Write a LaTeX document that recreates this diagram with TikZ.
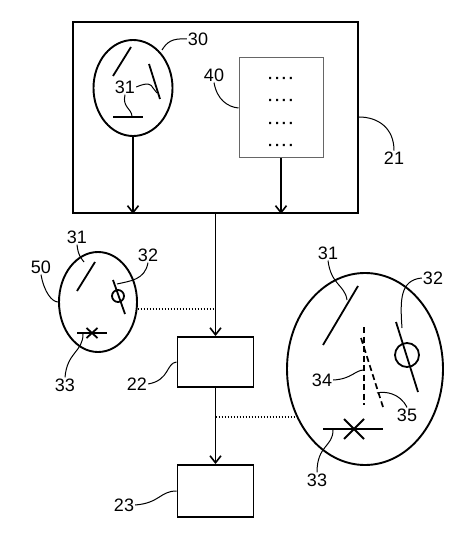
\documentclass[tikz,border=0pt]{standalone}
\usepackage{fontspec}
\setmainfont{Liberation Sans}
\usetikzlibrary{shapes.geometric,arrows.meta}
\begin{document}
\begin{tikzpicture}[x=1pt,y=-1pt,
  every node/.style={font=\fontsize{18}{20}\selectfont},
  main/.style={draw,line width=1.9pt,inner sep=0pt},
  box/.style={main,rectangle},
  oval/.style={main,ellipse},
  stroke/.style={line width=1.8pt},
  leader/.style={line width=1pt},
  lbl/.style={inner sep=1pt},
  arr/.style={line width=1.9pt,-{Straight Barb[length=7pt,width=11pt,line width=1.6pt]}},
  dots/.style={line width=1.6pt,dash pattern=on 1.5pt off 1.5pt},
  dash34/.style={line width=1.7pt,dash pattern=on 6pt off 3.5pt},
  dotrow/.style={font=\fontsize{15}{16}\selectfont\bfseries}
]
\useasboundingbox (0,0) rectangle (474,534);
% boxes and ovals
\node[box,minimum width=285pt,minimum height=191pt] (b21) at (215.5,117.5) {};
\node[oval,minimum width=79pt,minimum height=96pt] (e30) at (133,88) {};
\node[rectangle,draw=black!60,line width=1pt,minimum width=84pt,minimum height=100pt,inner sep=0pt] (b40) at (281,108) {};
\node[oval,minimum width=78pt,minimum height=100pt] (e50) at (98,302) {};
\node[box,minimum width=76pt,minimum height=50pt] (b22) at (215.5,362) {};
\node[box,minimum width=76pt,minimum height=52pt] (b23) at (215.5,491) {};
\node[oval,minimum width=156pt,minimum height=192pt] (eb) at (365,369) {};
% dots in 40
\foreach \yy/\nm in {80/d1,102/d2,125/d3,147/d4}
  \node[dotrow] (\nm) at (281,\yy) {·\kern1.9pt·\kern1.9pt·\kern1.9pt·};
% connectors
\draw[arr] (e30.south) -- (e30.south |- b21.south);
\draw[arr] (b40.south) -- (b40.south |- b21.south);
\draw[arr] (b21.south) -- (b22.north);
\draw[arr] (b22.south) -- (b23.north);
\draw[dots] (e50.-10) -- (e50.-10 -| b22.north);
\draw[dots] (eb.215.4 -| b22.south) -- (eb.215.4);
% contents of 30
\draw[stroke] (113,76) -- (131,47);
\draw[stroke] (149,64) -- (160,99);
\draw[stroke] (113,117) -- (143,117);
% contents of 50
\draw[stroke] (77,291) -- (95,262);
\draw[stroke] (113,280) -- (125,314);
\draw[stroke] (118,296) circle (6);
\draw[stroke] (77,333) -- (107,333);
\draw[stroke] (86.5,328) -- (97.5,338) (86.5,338) -- (97.5,328);
% contents of big oval
\draw[stroke] (323,345) -- (358,286);
\draw[stroke] (396,322) -- (418,392);
\draw[stroke] (407,355) circle (12);
\draw[dash34] (364,327) -- (364,405);
\draw[dash34] (361,338) -- (383,407);
\draw[stroke] (323,429) -- (383,429);
\draw[stroke] (344,419) -- (364,439) (344,439) -- (364,419);
% labels
\node[lbl] (l30) at (198,39) {30};
\node[lbl] (l31a) at (125,87) {31};
\node[lbl] (l40) at (214,75) {40};
\node[lbl] (l21) at (394,158) {21};
\node[lbl] (l31b) at (77,237) {31};
\node[lbl] (l32a) at (148,255) {32};
\node[lbl] (l50) at (41,267) {50};
\node[lbl] (l33a) at (65,385) {33};
\node[lbl] (l22) at (137,384) {22};
\node[lbl] (l23) at (124,505) {23};
\node[lbl] (l31c) at (328,253) {31};
\node[lbl] (l32b) at (433,278) {32};
\node[lbl] (l34) at (322,380) {34};
\node[lbl] (l35) at (407,415) {35};
\node[lbl] (l33b) at (317,480) {33};
% leaders
\draw[leader] (162,50) .. controls (167,42) and (172,38) .. (l30.west);
\draw[leader] (l31a.east) .. controls (148,82) and (151,84) .. (153,88) .. controls (155,91) .. (157,93);
\draw[leader] (l31a.south) .. controls (122,108) and (132,108) .. (132,117);
\draw[leader] (l40.south) .. controls (217,100) and (228,107) .. (b40.west);
\draw[leader] (b21.east |- 0,117) .. controls (378,117) and (394,128) .. (l21.north);
\draw[leader] (l31b.south) .. controls (78,256) and (82,259) .. (84,262);
\draw[leader] (l32a.south) .. controls (145,280) and (130,281) .. (117,284);
\draw[leader] (l50.south) .. controls (44,292) and (52,302) .. (e50.west);
\draw[leader] (l33a.north) .. controls (67,352) and (83,352) .. (83,334);
\draw[leader] (l22.east) .. controls (170,380) and (166,363) .. (b22.west);
\draw[leader] (l23.east) .. controls (160,503) and (160,491) .. (b23.west);
\draw[leader] (l31c.south) .. controls (331,285) and (345,285) .. (347,300);
\draw[leader] (l32b.west) .. controls (400,280) and (400,300) .. (402,328);
\draw[leader] (l34.east) .. controls (352,379) and (355,370) .. (364,370);
\draw[leader] (l35.north) .. controls (400,393) and (385,391) .. (377,393);
\draw[leader] (l33b.north) .. controls (317,445) and (333,447) .. (333,430);
\end{tikzpicture}
\end{document}
